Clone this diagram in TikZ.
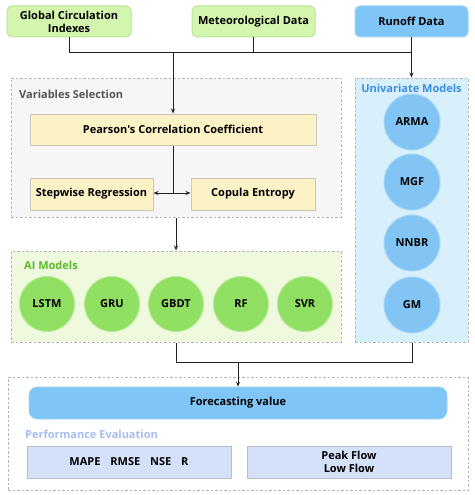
\documentclass[tikz,border=0pt]{standalone}
\usepackage{fontspec}
\newfontfamily\osf{Open Sans}
\usetikzlibrary{arrows.meta}
\definecolor{topgreen}{HTML}{D4F5AE}
\definecolor{topgreenb}{HTML}{B9E39A}
\definecolor{runoff}{HTML}{7FC6F7}
\definecolor{runoffb}{HTML}{A3D3F2}
\definecolor{vsfill}{HTML}{F6F6F6}
\definecolor{dashb}{HTML}{B4B4B4}
\definecolor{yel}{HTML}{FDF2C6}
\definecolor{yelb}{HTML}{C9C9B8}
\definecolor{aifill}{HTML}{EEF9DE}
\definecolor{aicirc}{HTML}{90DF62}
\definecolor{aicircb}{HTML}{B3EA92}
\definecolor{unifill}{HTML}{D7F0FC}
\definecolor{unicirc}{HTML}{82C5F4}
\definecolor{unicircb}{HTML}{A6D5F4}
\definecolor{perffill}{HTML}{D5E0F9}
\definecolor{perfb}{HTML}{B9BCC6}
\definecolor{vslabel}{HTML}{555555}
\definecolor{ailabel}{HTML}{5DB82C}
\definecolor{unilabel}{HTML}{3A8EE2}
\definecolor{perflabel}{HTML}{A6BDF0}
\definecolor{linec}{HTML}{222222}
\tikzset{
  txt/.style={font=\osf\fontsize{11}{13}\selectfont\bfseries, text=black, align=center, inner sep=0pt},
  topbox/.style={txt, draw=topgreenb, fill=topgreen, line width=1pt, rounded corners=5pt},
  runbox/.style={txt, draw=runoffb, fill=runoff, line width=1pt, rounded corners=5pt},
  group/.style={draw=dashb, dash pattern=on 2.5pt off 2pt, line width=1pt},
  yelbox/.style={txt, draw=yelb, fill=yel, line width=1pt},
  aic/.style={txt, circle, draw=aicircb, fill=aicirc, line width=1pt, minimum size=55pt},
  unic/.style={txt, circle, draw=unicircb, fill=unicirc, line width=1pt, minimum size=56pt},
  fcbox/.style={txt, fill=runoff, draw=runoffb, line width=0.6pt, rounded corners=8pt},
  perfbox/.style={txt, draw=perfb, fill=perffill, line width=1pt},
  glabel/.style={font=\osf\fontsize{11}{13}\selectfont\bfseries, inner sep=0pt, anchor=west},
  conn/.style={draw=linec, line width=0.9pt},
  arr/.style={conn, -{Stealth[length=5pt,width=4pt]}},
}
\begin{document}
\begin{tikzpicture}[x=1pt,y=-1pt]
\useasboundingbox (0,0) rectangle (474,495);
% groups
\node[group, fill=vsfill, minimum width=330pt, minimum height=139pt, inner sep=0pt] (vs) at (176,147.5) {};
\node[group, fill=aifill, minimum width=330pt, minimum height=91pt, inner sep=0pt] (ai) at (176,296.5) {};
\node[group, fill=unifill, minimum width=113pt, minimum height=264pt, inner sep=0pt] (uni) at (411.5,210) {};
\node[group, fill=white, minimum width=460pt, minimum height=113pt, inner sep=0pt] (pe) at (238,433.5) {};
% group labels
\node[glabel, text=vslabel] (vsl) at (19,94) {Variables Selection};
\node[glabel, text=ailabel] (ail) at (24,265) {AI Models};
\node[glabel, text=unilabel, anchor=center] (unil) at (411.5,88) {Univariate Models};
\node[glabel, text=perflabel] (pel) at (25,434) {Performance Evaluation};
% top boxes
\node[topbox, minimum width=124pt, minimum height=31pt] (gci) at (69,21.5) {Global Circulation\\Indexes};
\node[topbox, minimum width=123pt, minimum height=31pt] (met) at (253.5,21.5) {Meteorological Data};
\node[runbox, minimum width=113pt, minimum height=31pt] (run) at (411.5,21.5) {Runoff Data};
% variables selection
\node[yelbox, minimum width=286pt, minimum height=31pt] (pcc) at (173,129.5) {Pearson's Correlation Coefficient};
\node[yelbox, minimum width=123pt, minimum height=32pt] (swr) at (91.5,194) {Stepwise Regression};
\node[yelbox, minimum width=124pt, minimum height=32pt] (cop) at (253,194) {Copula Entropy};
% AI circles
\node[aic] (lstm) at (47,304) {LSTM};
\node[aic] (gru) at (112,304) {GRU};
\node[aic] (gbdt) at (176,304) {GBDT};
\node[aic] (rf) at (241,304) {RF};
\node[aic] (svr) at (305,304) {SVR};
% univariate circles
\node[unic] (arma) at (412,122) {ARMA};
\node[unic] (mgf) at (412,182) {MGF};
\node[unic] (nnbr) at (412,243) {NNBR};
\node[unic] (gm) at (412,305) {GM};
% forecasting & performance
\node[fcbox, minimum width=418pt, minimum height=32pt] (fc) at (238,403) {Forecasting value};
\node[perfbox, minimum width=204pt, minimum height=32pt] (m1) at (129,462) {MAPE\hspace{0.9em}RMSE\hspace{0.9em}NSE\hspace{0.9em}R};
\node[perfbox, minimum width=204pt, minimum height=32pt] (m2) at (349,462) {Peak Flow\\Low Flow};
% connectors
\coordinate (j1) at (69,52);
\coordinate (j2) at (412,52);
\coordinate (jm) at (173,52);
\draw[conn] (gci.south) -- (j1) -- (j2);
\draw[conn] (met.south) -- (met.south |- j1);
\draw[arr] (run.south) -- (uni.north);
\draw[arr] (jm) -- (pcc.north);
\coordinate (split) at (173,193);
\draw[conn] (pcc.south) -- (split);
\draw[arr] (split) -- (swr.east |- split);
\draw[arr] (split) -- (cop.west |- split);
\draw[arr] (vs.south) -- (ai.north);
\coordinate (b1) at (176,362);
\coordinate (b2) at (412,362);
\draw[conn] (ai.south) -- (b1) -- (b2) -- (uni.south -| b2);
\draw[arr] (fc.north |- b1) -- (fc.north);
\end{tikzpicture}
\end{document}
